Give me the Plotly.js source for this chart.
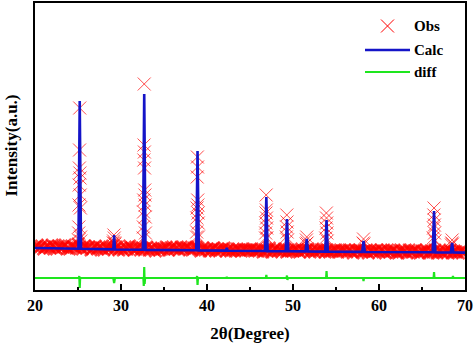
<!DOCTYPE html>
<html>
<head>
<meta charset="utf-8">
<script src="https://cdn.plot.ly/plotly-3.0.1.min.js"></script>
<style>html,body{margin:0;padding:0;background:#fff;}#chart{width:474px;height:346px;}</style>
</head>
<body>
<div id="chart"></div>
<script>
// ---- Data (2θ in degrees, intensity in arbitrary units) ----
// Observed background, sampled every 0.25° from 20° to 70°
const obsBgStart = 20;
const obsBgStep = 0.25;
const obsBgY = [
  43,45,42,44,41,43,44,42,45,43,41,44,42,43,45,42,41,44,43,42,
  46,43,41,44,42,43,40,42,44,41,43,42,40,43,41,42,44,41,43,40,
  42,40,43,41,44,42,40,41,43,40,42,41,43,40,42,41,39,42,40,41,
  41,43,40,42,43,41,42,40,43,41,42,43,41,40,42,43,41,39,42,40,
  41,39,40,42,39,41,40,41,42,39,41,39,40,39,41,40,39,41,40,40,
  40,41,39,40,39,41,38,40,39,42,38,40,41,39,40,39,41,38,40,39,
  39,40,40,38,41,39,40,41,38,40,38,40,39,40,41,38,40,38,39,39,
  40,38,40,39,40,38,40,39,37,40,39,40,38,39,39,37,40,38,39,40,
  38,40,39,37,40,38,39,40,38,37,40,38,39,37,40,38,39,40,38,37,
  39,38,40,37,39,38,40,37,39,38,37,39,38,40,37,39,38,37,39,38,
  38
];
// Observed points on the Bragg peaks
const obsPeakX = [
  25.06,25.08,25.10,25.12,25.14,25.16,25.18,25.20,25.22,25.24,25.26,25.28,25.30,25.32,
  29.10,29.14,29.18,29.22,29.26,29.30,
  32.58,32.60,32.62,32.64,32.66,32.68,32.70,32.72,32.74,32.76,32.78,32.80,32.82,32.84,
  38.78,38.80,38.82,38.84,38.86,38.88,38.90,38.92,38.94,38.96,38.98,39.00,
  46.80,46.82,46.84,46.86,46.88,46.90,46.92,46.94,46.96,
  49.22,49.26,49.28,49.30,49.32,49.36,
  51.52,51.56,51.60,51.64,
  53.80,53.84,53.88,53.90,53.92,53.94,53.98,
  58.16,58.20,58.24,
  66.30,66.34,66.38,66.40,66.42,66.44,66.46,66.50,
  68.42,68.46,68.50,68.54
];
const obsPeakY = [
  50,57,63,85,105,122,140,182,117,112,95,82,53,49,
  47,49,55,52,47,46,
  52,63,78,90,130,145,206,138,122,100,95,85,73,57,
  53,58,72,82,113,133,123,90,85,77,67,53,
  52,57,67,77,95,80,72,62,52,
  53,63,75,68,58,50,
  46,50,53,47,
  52,62,77,72,67,57,49,
  47,51,46,
  52,62,75,82,70,65,57,49,
  45,47,50,46
];
// Calculated profile
const calcX = [20,25.05,25.2,25.35,29.1,29.2,29.3,32.55,32.7,32.85,38.75,38.9,39.05,42.2,42.3,42.4,
  46.75,46.9,47.05,49.15,49.3,49.45,51.45,51.6,51.75,53.75,53.9,54.05,58.05,58.2,58.35,
  66.25,66.4,66.55,68.35,68.5,68.65,70];
const calcY = [42,41.3,189,41.2,40.6,55,40.5,40.2,196,40.1,39.7,139,39.6,39.4,42,39.3,
  39.0,93,38.9,38.8,71,38.7,38.6,51,38.5,38.4,70,38.3,38.1,49,38.0,
  37.7,79,37.6,37.5,47,37.5,37.4];
// Difference curve (offset)
const diffX = [20,25.1,25.15,25.2,25.25,29.1,29.2,29.3,32.6,32.65,32.7,32.75,32.8,38.8,38.85,38.9,38.95,
  42.25,42.3,42.35,46.85,46.9,46.95,49.25,49.3,49.35,49.4,53.85,53.9,53.95,58.15,58.2,58.25,
  66.35,66.4,66.45,68.55,68.6,68.65,70];
const diffY = [12,12,14,2,12,12,7,12,12,4,23,6,12,12,14,5,12,
  12,13,12,12,15,12,12,14.5,10,12,12,19,12,12,9,12,
  12,18,12,12,14,12,12];
const legendLabels = ['Obs','Calc','diff'];

// ---- Build observed series ----
const obsX = [], obsY = [], obsLW = [], obsSize = [];
obsBgY.forEach((v,i)=>{ obsX.push(obsBgStart + i*obsBgStep); obsY.push(v); obsLW.push(2.5); obsSize.push(12); });
obsPeakX.forEach((v,i)=>{ obsX.push(v); obsY.push(obsPeakY[i]); obsLW.push(1); obsSize.push(13); });

const RED = '#ff0000', BLUE = '#1414c8', GREEN = '#1ee61e';
const FONT = 'Liberation Serif, Times New Roman, serif';

// plot area in pixels: left 35, right 465, top 3, bottom 290
const W = 474, H = 346, L = 35, R = 9, T = 3, B = 56;
const pw = W - L - R, ph = H - T - B;
const px = v => (v - L) / pw;
const py = v => (H - B - v) / ph;
const legendRows = [26, 50, 72];

const traces = [
  {x: obsX, y: obsY, mode: 'markers', name: legendLabels[0], showlegend: false, hoverinfo: 'skip',
   marker: {symbol: 'x-thin-open', size: obsSize, color: RED, line: {width: obsLW, color: RED}}},
  {x: calcX, y: calcY, mode: 'lines', name: legendLabels[1], showlegend: false,
   line: {color: BLUE, width: 2.6}},
  {x: diffX, y: diffY, mode: 'lines', name: legendLabels[2], showlegend: false,
   line: {color: GREEN, width: 2.2}},
  // legend key symbols, drawn on an overlay with paper-like [0,1] axes
  {x: [px(387.5)], y: [py(legendRows[0])], xaxis: 'x2', yaxis: 'y2', mode: 'markers', showlegend: false, hoverinfo: 'skip',
   marker: {symbol: 'x-thin-open', size: 13, color: RED, line: {width: 1, color: RED}}},
  {x: [px(365), px(410)], y: [py(legendRows[1]), py(legendRows[1])], xaxis: 'x2', yaxis: 'y2', mode: 'lines', showlegend: false, hoverinfo: 'skip',
   line: {color: BLUE, width: 2.6}},
  {x: [px(365), px(410)], y: [py(legendRows[2]), py(legendRows[2])], xaxis: 'x2', yaxis: 'y2', mode: 'lines', showlegend: false, hoverinfo: 'skip',
   line: {color: GREEN, width: 2.2}}
];

const annotations = legendLabels.map((t,i)=>({
  text: t, xref:'paper', yref:'paper', x: px(412), y: py(legendRows[i]), xanchor:'left', yanchor:'middle',
  showarrow:false, font:{family:FONT, size:15, weight:'bold', color:'#000'}
}));
annotations.push({
  text:'Intensity(a.u.)', xref:'paper', yref:'paper', x: px(11), y: py(145.5), textangle:-90,
  xanchor:'center', yanchor:'middle', showarrow:false,
  font:{family:FONT, size:17, weight:'bold', color:'#000'}
});

const layout = {
  width: W, height: H,
  margin: {l: L, r: R, t: T, b: B, pad: 0, autoexpand: false},
  paper_bgcolor: '#fff', plot_bgcolor: '#fff',
  showlegend: false,
  xaxis: {
    range: [20, 70], tick0: 20, dtick: 10, ticks: 'inside', ticklen: 6, tickwidth: 2, tickcolor: '#000',
    minor: {dtick: 5, ticks: 'inside', ticklen: 3, tickwidth: 2, tickcolor: '#000'},
    showline: true, linecolor: '#000', linewidth: 2, mirror: true,
    showgrid: false, zeroline: false, automargin: false,
    tickfont: {family: FONT, size: 16, weight: 'bold', color: '#000'},
    title: {text: '2θ(Degree)', font: {family: FONT, size: 17, weight: 'bold', color: '#000'}, standoff: 14}
  },
  yaxis: {
    range: [0, 287], showticklabels: false, ticks: '', showline: true, linecolor: '#000', linewidth: 2,
    mirror: true, showgrid: false, zeroline: false, automargin: false
  },
  xaxis2: {overlaying: 'x', range: [0, 1], visible: false, fixedrange: true},
  yaxis2: {overlaying: 'y', range: [0, 1], visible: false, fixedrange: true},
  annotations: annotations
};

Plotly.newPlot('chart', traces, layout, {displayModeBar: false, staticPlot: true});
</script>
</body>
</html>
